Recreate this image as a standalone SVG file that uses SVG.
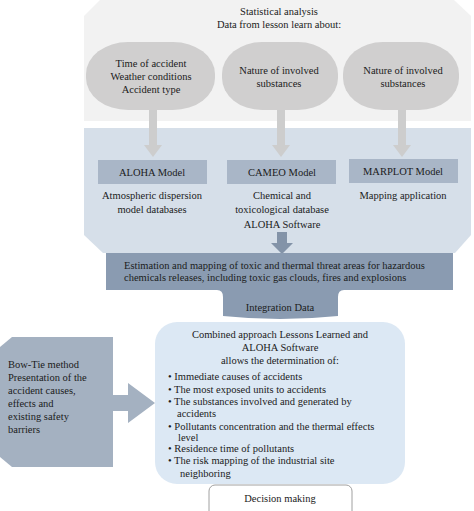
<svg xmlns="http://www.w3.org/2000/svg" width="474" height="511" viewBox="0 0 474 511">
<style>
text{font-family:"Liberation Serif","Times New Roman",serif;font-size:10.5px;fill:#1b1b1b}
.c{text-anchor:middle}
.oval{fill:#d0cfcf}
.stalk{fill:#cdcdcd}
.model{fill:#a9b6c7}
.dark{fill:#8a9bb1}
</style>
<rect width="474" height="511" fill="#ffffff"/>
<g id="stat-panel">
<polygon points="84,16 100,0 454,0 471,16 471,121 84,121" fill="#f2f2f2"/>
<text class="c" x="279" y="14.5">Statistical analysis</text>
<text class="c" x="279" y="27.5">Data from lesson learn about:</text>
</g>
<g id="model-panel">
<polygon points="84,128 471,128 471,235 455,253 103,253 84,235" fill="#d6dfe9"/>
</g>
<g id="connectors">
<polygon class="stalk" points="149,106 157,106 157,145 162,145 153,157 144,145 149,145"/>
<polygon class="stalk" points="277,106 285,106 285,145 290,145 281,157 272,145 277,145"/>
<polygon class="stalk" points="398,106 406,106 406,145 411,145 402,157 393,145 398,145"/>
<polygon points="277,232 287,232 287,243 293,243 282,254 271,243 277,243" fill="#8393a8"/>
<polygon points="113,395 128,395 128,383 155,403 128,423 128,411 113,411" fill="#a4b1c1"/>
</g>
<g id="oval-1">
<rect class="oval" x="86" y="42" width="129" height="68" rx="42" ry="32"/>
<text class="c" x="151" y="66.5">Time of accident</text>
<text class="c" x="151" y="79.5">Weather conditions</text>
<text class="c" x="151" y="92.5">Accident type</text>
</g>
<g id="oval-2">
<rect class="oval" x="222" y="42" width="116" height="68" rx="40" ry="32"/>
<text class="c" x="279" y="73.5">Nature of involved</text>
<text class="c" x="279" y="86.5">substances</text>
</g>
<g id="oval-3">
<rect class="oval" x="343" y="42" width="116" height="68" rx="40" ry="32"/>
<text class="c" x="403" y="73.5">Nature of involved</text>
<text class="c" x="403" y="86.5">substances</text>
</g>
<g id="aloha">
<rect class="model" x="98" y="160" width="109" height="24"/>
<text class="c" x="152" y="175.5">ALOHA Model</text>
<text class="c" x="152" y="198.5">Atmospheric dispersion</text>
<text class="c" x="152" y="212.5">model databases</text>
</g>
<g id="cameo">
<rect class="model" x="227" y="160" width="109" height="24"/>
<text class="c" x="282" y="175.5">CAMEO Model</text>
<text class="c" x="282" y="198.5">Chemical and</text>
<text class="c" x="282" y="212.5">toxicological database</text>
<text class="c" x="282" y="227.5">ALOHA Software</text>
</g>
<g id="marplot">
<rect class="model" x="349" y="159" width="109" height="24"/>
<text class="c" x="403" y="174.5">MARPLOT Model</text>
<text class="c" x="403" y="198.5">Mapping application</text>
</g>
<g id="estimation">
<path class="dark" d="M106,253 H453 V290 H344 Q338,290 338,297 V316 Q280,322 223,316 V297 Q223,290 217,290 H106 Z"/>
<text x="124" y="268.5">Estimation and mapping of toxic and thermal threat areas for hazardous</text>
<text x="124" y="280.5">chemicals releases, including toxic gas clouds, fires and explosions</text>
<text class="c" x="280" y="310.5">Integration Data</text>
</g>
<g id="bowtie">
<polygon points="0,347 12,337 113,337 113,467 12,467 0,457" fill="#a4b1c1"/>
<text x="8" y="367.5">Bow-Tie method</text>
<text x="8" y="381">Presentation of the</text>
<text x="8" y="393.5">accident causes,</text>
<text x="8" y="406.5">effects and</text>
<text x="8" y="420">existing safety</text>
<text x="8" y="432.5">barriers</text>
</g>
<g id="combined">
<rect x="155" y="322" width="250" height="162" rx="22" fill="#dce8f4"/>
<text class="c" x="280" y="337.5">Combined approach Lessons Learned and</text>
<text class="c" x="280" y="350.5">ALOHA Software</text>
<text class="c" x="280" y="363.5">allows the determination of:</text>
<text x="168" y="379.5">• Immediate causes of accidents</text>
<text x="168" y="392.5">• The most exposed units to accidents</text>
<text x="168" y="404.5">• The substances involved and generated by</text>
<text x="177" y="416.5">accidents</text>
<text x="168" y="429.5">• Pollutants concentration and the thermal effects</text>
<text x="178" y="440.5">level</text>
<text x="168" y="452">• Residence time of pollutants</text>
<text x="168" y="463.5">• The risk mapping of the industrial site</text>
<text x="180" y="476.5">neighboring</text>
</g>
<g id="decision">
<rect x="209" y="485" width="143" height="40" rx="6" fill="#ffffff" stroke="#a0a0a0" stroke-width="1"/>
<text class="c" x="280" y="501.5">Decision making</text>
</g>
</svg>
